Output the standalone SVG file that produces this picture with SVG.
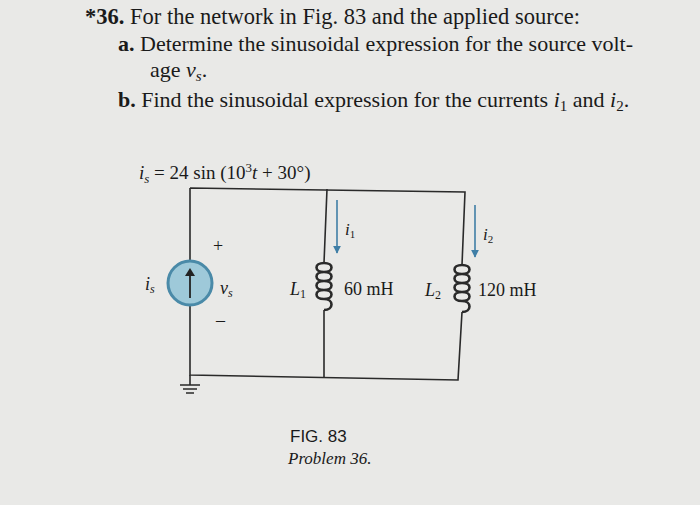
<svg xmlns="http://www.w3.org/2000/svg" width="700" height="505" viewBox="0 0 700 505">
<defs>
<style>
.t{font-family:"Liberation Serif",serif;fill:#1a1a1a}
.w{stroke:#2a2a2a;stroke-width:1.6;fill:none}
.c{stroke:#2a2a2a;stroke-width:2.6;fill:none}
.a{stroke:#3f7ea6;stroke-width:1.6}
</style>
<marker id="ar" viewBox="0 0 10 10" refX="9" refY="5" markerWidth="5" markerHeight="7" orient="auto"><path d="M0,0L10,5L0,10z" fill="#3f7ea6"/></marker>
</defs>
<rect width="700" height="505" fill="#e9e9e7"/>
<g id="text">
<text class="t" x="85" y="24" font-size="22.5"><tspan font-weight="bold">*36.</tspan> For the network in Fig. 83 and the applied source:</text>
<text class="t" x="118" y="51" font-size="22"><tspan font-weight="bold">a.</tspan> Determine the sinusoidal expression for the source volt-</text>
<text class="t" x="150" y="77" font-size="22">age <tspan font-style="italic">v</tspan><tspan font-style="italic" font-size="15" dy="4">s</tspan><tspan dy="-4">.</tspan></text>
<text class="t" x="118" y="107" font-size="22"><tspan font-weight="bold">b.</tspan> Find the sinusoidal expression for the currents <tspan font-style="italic">i</tspan><tspan font-size="15" dy="4">1</tspan><tspan dy="-4"> and </tspan><tspan font-style="italic">i</tspan><tspan font-size="15" dy="4">2</tspan><tspan dy="-4">.</tspan></text>
<text class="t" x="139" y="179" font-size="19"><tspan font-style="italic">i</tspan><tspan font-style="italic" font-size="13" dy="4">s</tspan><tspan dy="-4"> = 24 sin (10</tspan><tspan font-size="13" dy="-7">3</tspan><tspan font-style="italic" dy="7">t</tspan> + 30°)</text>
<text class="t" x="290" y="442" font-size="17" style="font-family:'Liberation Sans',sans-serif">FIG. 83</text>
<text class="t" x="288" y="464" font-size="17" font-style="italic">Problem 36.</text>
</g>
<g id="wires" class="w">
<path d="M190,188 L465,192 L462,265 M462,312 L458,380 L190,375 L190,306 M190,260 L190,188"/>
<path d="M327,189 L324,263 M324,310 L324,377"/>
<path d="M190,375 V385 M180,385 H200 M183,389 H197 M186,393 H194"/>
</g>
<g id="source">
<circle cx="190" cy="283" r="22" fill="#9ec9d9" stroke="#4a8aa8" stroke-width="3"/>
<line x1="190" y1="298" x2="190" y2="272" stroke="#222" stroke-width="1.8"/>
<path d="M185,276 L190,268 L195,276z" fill="#222"/>
<text class="t" x="145" y="290" font-size="18" font-style="italic">i<tspan font-size="12" dy="3">s</tspan></text>
<text class="t" x="220" y="294" font-size="18" font-style="italic">v<tspan font-size="12" dy="3">s</tspan></text>
<text class="t" x="213" y="252" font-size="18">+</text>
<text class="t" x="216" y="326" font-size="18">–</text>
</g>
<g id="L1">
<path class="c" d="M324,263 c10,0 10,9 0,9 c-10,0 -10,-9 0,-9 M324,272 c10,0 10,9 0,9 c-10,0 -10,-9 0,-9 M324,281 c10,0 10,9 0,9 c-10,0 -10,-9 0,-9 M324,290 c10,0 10,9 0,9 c-10,0 -10,-9 0,-9 M324,299 c10,0 10,11 0,11"/>
<text class="t" x="290" y="295" font-size="18" font-style="italic">L<tspan font-size="12" dy="3" font-style="normal">1</tspan></text>
<text class="t" x="344" y="295" font-size="18">60 mH</text>
<line class="a" x1="337" y1="200" x2="337" y2="253" marker-end="url(#ar)"/>
<text class="t" x="345" y="235" font-size="17" font-style="italic">i<tspan font-size="11" dy="3" font-style="normal">1</tspan></text>
</g>
<g id="L2">
<path class="c" d="M462,265 c10,0 10,9 0,9 c-10,0 -10,-9 0,-9 M462,274 c10,0 10,9 0,9 c-10,0 -10,-9 0,-9 M462,283 c10,0 10,9 0,9 c-10,0 -10,-9 0,-9 M462,292 c10,0 10,9 0,9 c-10,0 -10,-9 0,-9 M462,301 c10,0 10,11 0,11"/>
<text class="t" x="425" y="296" font-size="18" font-style="italic">L<tspan font-size="12" dy="3" font-style="normal">2</tspan></text>
<text class="t" x="478" y="296" font-size="18">120 mH</text>
<line class="a" x1="475" y1="205" x2="475" y2="257" marker-end="url(#ar)"/>
<text class="t" x="483" y="240" font-size="17" font-style="italic">i<tspan font-size="11" dy="3" font-style="normal">2</tspan></text>
</g>
</svg>
